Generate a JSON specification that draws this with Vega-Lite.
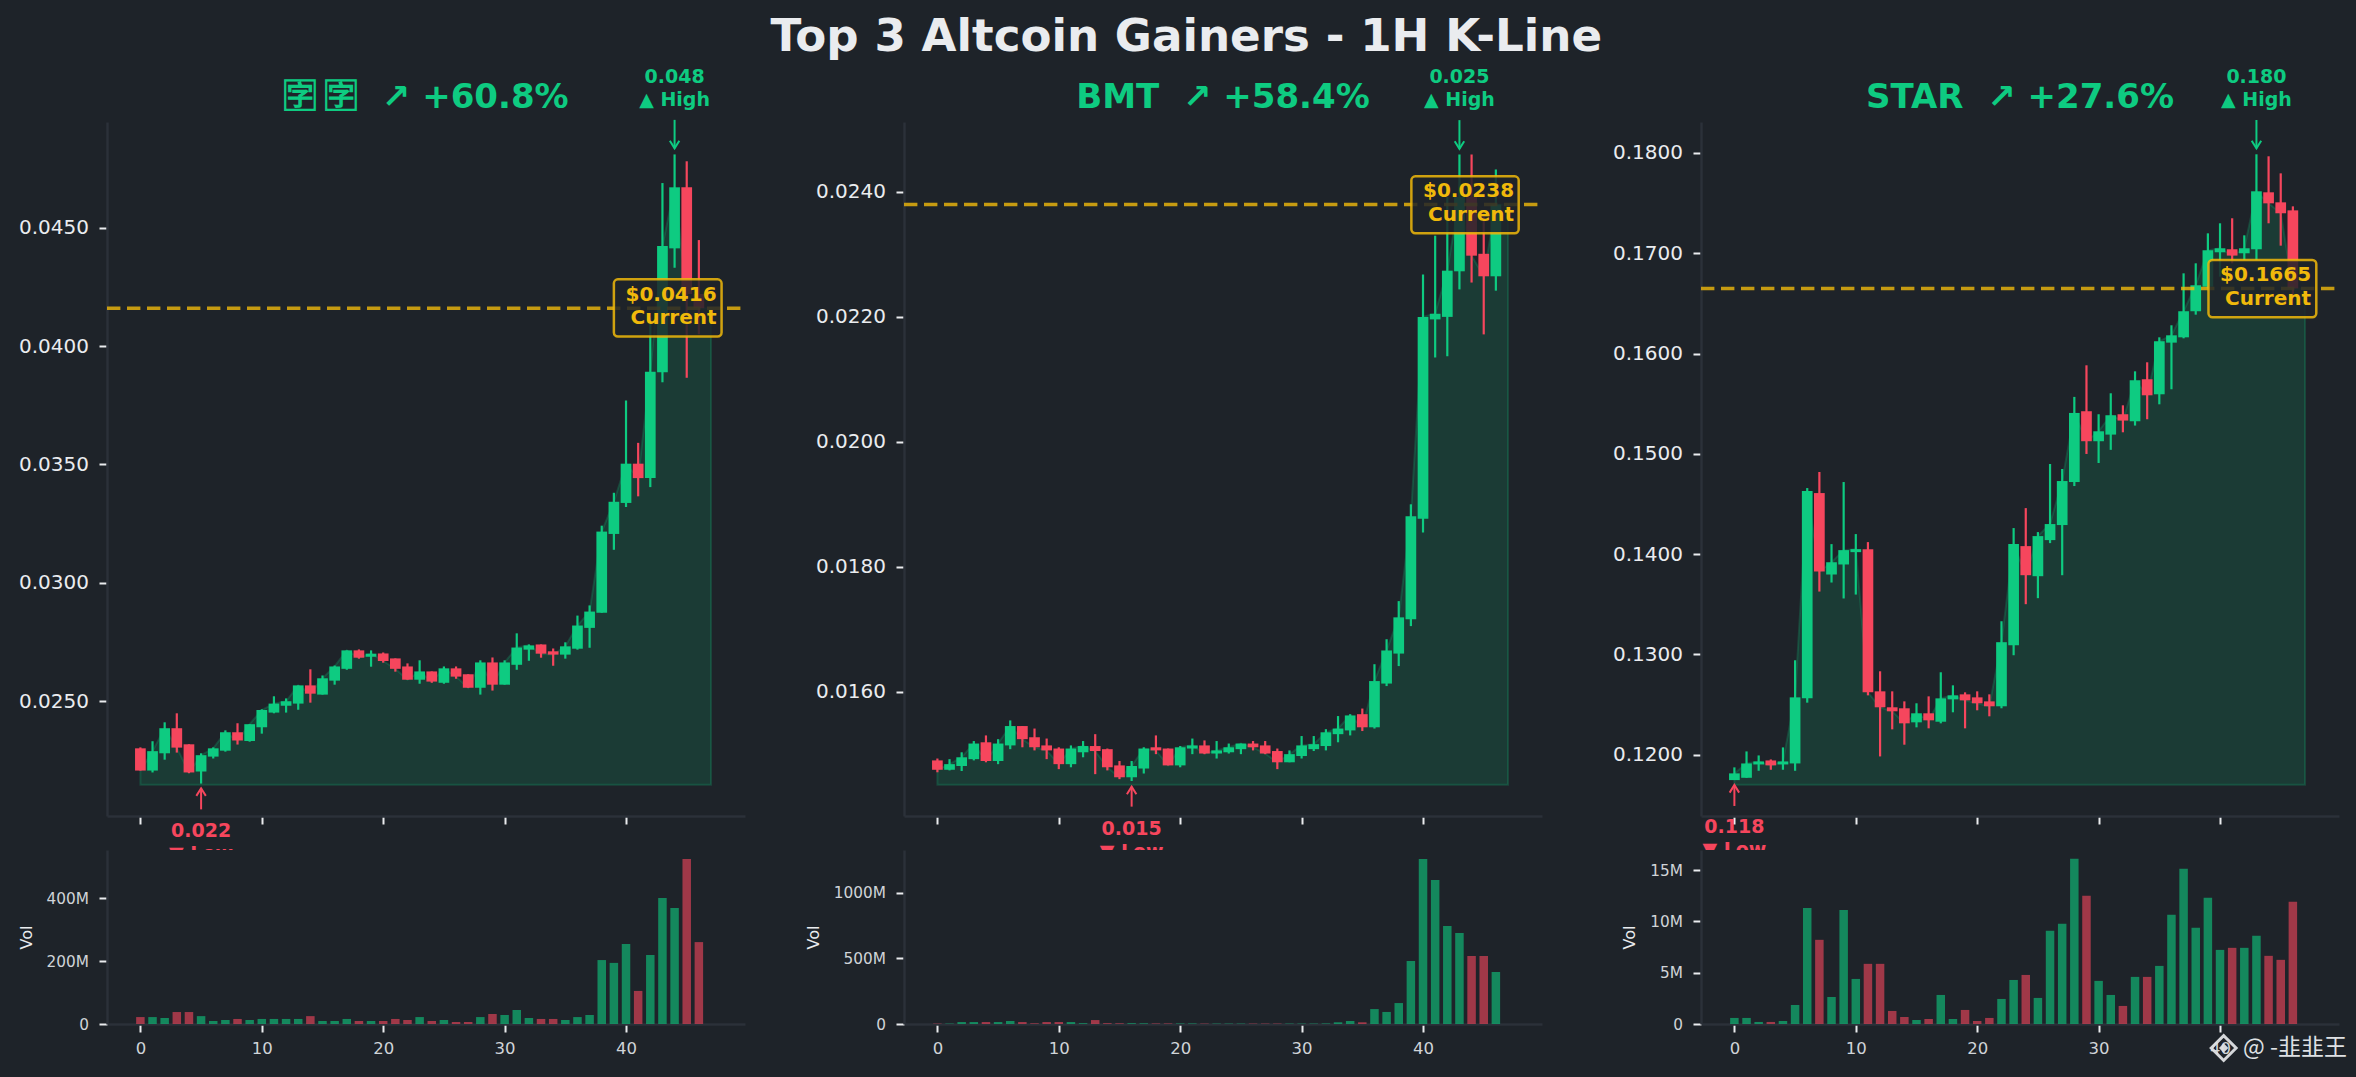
{
"$schema":"https://vega.github.io/schema/vega-lite/v6.json",
"background":"#1e2329",
"padding":{"left":18,"top":15,"right":10,"bottom":14},
"config":{"view":{"stroke":null,"fill":"#1e2329"},"font":"DejaVu Sans",
"axis":{"grid":false,"title":null,"domainColor":"#2b3139","domainWidth":2.5,"tickColor":"#eaecef","tickWidth":2,"tickSize":8,"labelFont":"DejaVu Sans","labelPadding":10.5,"titlePadding":12}},
"datasets":{
"p1":[
{"i":0,"o":0.023,"h":0.02304,"l":0.02206,"c":0.02206,"v":22000000},
{"i":1,"o":0.02206,"h":0.0233,"l":0.02198,"c":0.02288,"v":22000000},
{"i":2,"o":0.02279,"h":0.0241,"l":0.02252,"c":0.02385,"v":19000000},
{"i":3,"o":0.02385,"h":0.02448,"l":0.02282,"c":0.02303,"v":38000000},
{"i":4,"o":0.02317,"h":0.02317,"l":0.02195,"c":0.02198,"v":38000000},
{"i":5,"o":0.02202,"h":0.02279,"l":0.02151,"c":0.02271,"v":25000000},
{"i":6,"o":0.02265,"h":0.02304,"l":0.02257,"c":0.023,"v":9500000},
{"i":7,"o":0.0229,"h":0.02376,"l":0.02286,"c":0.02368,"v":12700000},
{"i":8,"o":0.02368,"h":0.02406,"l":0.02316,"c":0.02333,"v":16000000},
{"i":9,"o":0.02331,"h":0.02402,"l":0.02328,"c":0.02402,"v":12700000},
{"i":10,"o":0.02389,"h":0.02465,"l":0.02362,"c":0.02462,"v":16000000},
{"i":11,"o":0.02451,"h":0.0252,"l":0.02448,"c":0.02489,"v":16000000},
{"i":12,"o":0.0248,"h":0.02511,"l":0.02451,"c":0.02499,"v":16000000},
{"i":13,"o":0.02489,"h":0.02566,"l":0.02463,"c":0.02566,"v":16000000},
{"i":14,"o":0.02566,"h":0.02634,"l":0.02493,"c":0.02531,"v":25000000},
{"i":15,"o":0.02527,"h":0.02608,"l":0.02527,"c":0.02596,"v":9500000},
{"i":16,"o":0.02586,"h":0.0265,"l":0.02569,"c":0.02646,"v":9500000},
{"i":17,"o":0.02636,"h":0.02714,"l":0.02632,"c":0.02714,"v":16000000},
{"i":18,"o":0.02714,"h":0.02718,"l":0.02679,"c":0.02683,"v":9500000},
{"i":19,"o":0.02687,"h":0.02714,"l":0.02645,"c":0.027,"v":9500000},
{"i":20,"o":0.02701,"h":0.02705,"l":0.02662,"c":0.02669,"v":9500000},
{"i":21,"o":0.0268,"h":0.0268,"l":0.02624,"c":0.02636,"v":16000000},
{"i":22,"o":0.02646,"h":0.02659,"l":0.0259,"c":0.0259,"v":12700000},
{"i":23,"o":0.0259,"h":0.02672,"l":0.02573,"c":0.02625,"v":22000000},
{"i":24,"o":0.02625,"h":0.02625,"l":0.02577,"c":0.02582,"v":9500000},
{"i":25,"o":0.02577,"h":0.02646,"l":0.02573,"c":0.02638,"v":12700000},
{"i":26,"o":0.02638,"h":0.02646,"l":0.02594,"c":0.02603,"v":6300000},
{"i":27,"o":0.02613,"h":0.02613,"l":0.02556,"c":0.02556,"v":6300000},
{"i":28,"o":0.02556,"h":0.02672,"l":0.02527,"c":0.02663,"v":22000000},
{"i":29,"o":0.02663,"h":0.02684,"l":0.02544,"c":0.02569,"v":31700000},
{"i":30,"o":0.02569,"h":0.02672,"l":0.02569,"c":0.02663,"v":28600000},
{"i":31,"o":0.02653,"h":0.02786,"l":0.02632,"c":0.02726,"v":44400000},
{"i":32,"o":0.02717,"h":0.02739,"l":0.0267,"c":0.02735,"v":19000000},
{"i":33,"o":0.02739,"h":0.02739,"l":0.02683,"c":0.027,"v":16000000},
{"i":34,"o":0.0271,"h":0.02722,"l":0.02649,"c":0.02696,"v":16000000},
{"i":35,"o":0.02696,"h":0.02748,"l":0.02679,"c":0.02731,"v":12700000},
{"i":36,"o":0.02721,"h":0.02861,"l":0.02717,"c":0.02819,"v":22000000},
{"i":37,"o":0.02809,"h":0.02904,"l":0.02725,"c":0.02878,"v":28600000},
{"i":38,"o":0.02873,"h":0.03241,"l":0.02873,"c":0.03216,"v":203000000},
{"i":39,"o":0.03206,"h":0.0338,"l":0.03139,"c":0.03342,"v":194000000},
{"i":40,"o":0.03337,"h":0.0377,"l":0.0332,"c":0.03503,"v":254000000},
{"i":41,"o":0.03503,"h":0.03591,"l":0.03365,"c":0.03442,"v":105000000},
{"i":42,"o":0.03442,"h":0.0412,"l":0.03404,"c":0.03892,"v":219000000},
{"i":43,"o":0.03889,"h":0.04689,"l":0.03847,"c":0.04423,"v":400000000},
{"i":44,"o":0.04413,"h":0.0481,"l":0.04331,"c":0.04671,"v":368000000},
{"i":45,"o":0.04671,"h":0.04781,"l":0.03866,"c":0.0422,"v":524000000},
{"i":46,"o":0.0422,"h":0.04448,"l":0.0405,"c":0.0416,"v":260000000},
{"i":47,"c":0.0416}],
"p2":[
{"i":0,"o":0.0149,"h":0.01493,"l":0.01471,"c":0.01475,"v":3000000},
{"i":1,"o":0.01475,"h":0.01492,"l":0.01474,"c":0.01484,"v":3000000},
{"i":2,"o":0.01481,"h":0.01503,"l":0.01473,"c":0.01495,"v":15000000},
{"i":3,"o":0.01492,"h":0.01521,"l":0.0149,"c":0.01517,"v":15000000},
{"i":4,"o":0.01519,"h":0.0153,"l":0.01487,"c":0.01489,"v":15000000},
{"i":5,"o":0.01489,"h":0.01524,"l":0.01484,"c":0.01517,"v":15000000},
{"i":6,"o":0.01514,"h":0.01554,"l":0.01508,"c":0.01545,"v":23000000},
{"i":7,"o":0.01545,"h":0.01545,"l":0.01511,"c":0.01524,"v":15000000},
{"i":8,"o":0.01527,"h":0.01541,"l":0.01506,"c":0.01511,"v":5000000},
{"i":9,"o":0.01514,"h":0.01525,"l":0.01492,"c":0.01506,"v":15000000},
{"i":10,"o":0.01509,"h":0.01511,"l":0.01476,"c":0.01484,"v":15000000},
{"i":11,"o":0.01484,"h":0.01514,"l":0.01479,"c":0.01509,"v":15000000},
{"i":12,"o":0.01503,"h":0.01521,"l":0.01495,"c":0.01513,"v":6000000},
{"i":13,"o":0.01513,"h":0.01532,"l":0.01468,"c":0.01505,"v":30000000},
{"i":14,"o":0.01508,"h":0.01509,"l":0.01474,"c":0.01479,"v":6000000},
{"i":15,"o":0.01482,"h":0.01489,"l":0.0146,"c":0.01463,"v":5000000},
{"i":16,"o":0.01463,"h":0.01489,"l":0.01457,"c":0.01481,"v":6000000},
{"i":17,"o":0.01477,"h":0.01511,"l":0.01469,"c":0.01509,"v":5000000},
{"i":18,"o":0.01511,"h":0.0153,"l":0.015,"c":0.01506,"v":4000000},
{"i":19,"o":0.01509,"h":0.01509,"l":0.01482,"c":0.01482,"v":4000000},
{"i":20,"o":0.01482,"h":0.01513,"l":0.01479,"c":0.01511,"v":4000000},
{"i":21,"o":0.01509,"h":0.01525,"l":0.015,"c":0.01514,"v":4000000},
{"i":22,"o":0.01514,"h":0.01522,"l":0.015,"c":0.01501,"v":3000000},
{"i":23,"o":0.01501,"h":0.01521,"l":0.01493,"c":0.01506,"v":3000000},
{"i":24,"o":0.01503,"h":0.01517,"l":0.01501,"c":0.01511,"v":3000000},
{"i":25,"o":0.01508,"h":0.01517,"l":0.015,"c":0.01517,"v":3000000},
{"i":26,"o":0.01517,"h":0.01521,"l":0.01506,"c":0.01511,"v":3000000},
{"i":27,"o":0.01514,"h":0.01521,"l":0.015,"c":0.01501,"v":3000000},
{"i":28,"o":0.01505,"h":0.01509,"l":0.01476,"c":0.01487,"v":3000000},
{"i":29,"o":0.01487,"h":0.01506,"l":0.01487,"c":0.015,"v":3000000},
{"i":30,"o":0.01497,"h":0.01529,"l":0.01493,"c":0.01514,"v":3000000},
{"i":31,"o":0.01508,"h":0.01529,"l":0.01505,"c":0.01516,"v":3000000},
{"i":32,"o":0.01513,"h":0.0154,"l":0.01506,"c":0.01535,"v":4000000},
{"i":33,"o":0.01532,"h":0.01561,"l":0.01519,"c":0.01541,"v":13000000},
{"i":34,"o":0.01538,"h":0.01564,"l":0.0153,"c":0.01562,"v":23000000},
{"i":35,"o":0.01564,"h":0.01573,"l":0.01537,"c":0.01543,"v":13000000},
{"i":36,"o":0.01543,"h":0.01644,"l":0.01541,"c":0.01617,"v":114000000},
{"i":37,"o":0.01613,"h":0.01684,"l":0.01609,"c":0.01666,"v":92000000},
{"i":38,"o":0.01661,"h":0.01745,"l":0.01641,"c":0.01719,"v":160000000},
{"i":39,"o":0.01716,"h":0.019,"l":0.01705,"c":0.01881,"v":481000000},
{"i":40,"o":0.01877,"h":0.02268,"l":0.01855,"c":0.022,"v":1260000000},
{"i":41,"o":0.02196,"h":0.0233,"l":0.02135,"c":0.02205,"v":1099000000},
{"i":42,"o":0.022,"h":0.02392,"l":0.02137,"c":0.02274,"v":748000000},
{"i":43,"o":0.02273,"h":0.0246,"l":0.02244,"c":0.02392,"v":695000000},
{"i":44,"o":0.02392,"h":0.0246,"l":0.02255,"c":0.02298,"v":519000000},
{"i":45,"o":0.02301,"h":0.0236,"l":0.02172,"c":0.02265,"v":519000000},
{"i":46,"o":0.02265,"h":0.02436,"l":0.02242,"c":0.0238,"v":397000000},
{"i":47,"c":0.0238}],
"p3":[
{"i":0,"o":0.11747,"h":0.11874,"l":0.1176,"c":0.11814,"v":590000},
{"i":1,"o":0.1177,"h":0.12033,"l":0.1177,"c":0.11913,"v":590000},
{"i":2,"o":0.11903,"h":0.11993,"l":0.1184,"c":0.11933,"v":200000},
{"i":3,"o":0.11943,"h":0.11953,"l":0.1185,"c":0.11894,"v":200000},
{"i":4,"o":0.11903,"h":0.12073,"l":0.1185,"c":0.11933,"v":290000},
{"i":5,"o":0.11913,"h":0.12942,"l":0.1184,"c":0.12572,"v":1850000},
{"i":6,"o":0.12562,"h":0.14659,"l":0.12519,"c":0.14629,"v":11300000},
{"i":7,"o":0.14609,"h":0.14819,"l":0.13627,"c":0.13827,"v":8200000},
{"i":8,"o":0.13797,"h":0.141,"l":0.13717,"c":0.1392,"v":2630000},
{"i":9,"o":0.13897,"h":0.14719,"l":0.13558,"c":0.1404,"v":11100000},
{"i":10,"o":0.1402,"h":0.142,"l":0.13597,"c":0.1405,"v":4390000},
{"i":11,"o":0.1405,"h":0.1412,"l":0.12592,"c":0.12622,"v":5860000},
{"i":12,"o":0.12632,"h":0.12832,"l":0.11983,"c":0.12473,"v":5860000},
{"i":13,"o":0.12473,"h":0.12632,"l":0.12253,"c":0.12433,"v":1270000},
{"i":14,"o":0.12463,"h":0.12532,"l":0.121,"c":0.12313,"v":680000},
{"i":15,"o":0.12323,"h":0.12513,"l":0.12273,"c":0.12413,"v":390000},
{"i":16,"o":0.12413,"h":0.12582,"l":0.12263,"c":0.12343,"v":490000},
{"i":17,"o":0.12329,"h":0.12822,"l":0.12313,"c":0.12562,"v":2830000},
{"i":18,"o":0.12552,"h":0.12692,"l":0.12423,"c":0.12592,"v":490000},
{"i":19,"o":0.12602,"h":0.12622,"l":0.12263,"c":0.12542,"v":1370000},
{"i":20,"o":0.12572,"h":0.12632,"l":0.12443,"c":0.12513,"v":290000},
{"i":21,"o":0.12532,"h":0.12602,"l":0.12383,"c":0.12483,"v":590000},
{"i":22,"o":0.12483,"h":0.13331,"l":0.12463,"c":0.13122,"v":2440000},
{"i":23,"o":0.13092,"h":0.1426,"l":0.12992,"c":0.141,"v":4290000},
{"i":24,"o":0.1408,"h":0.14459,"l":0.13501,"c":0.1379,"v":4780000},
{"i":25,"o":0.1378,"h":0.1422,"l":0.13561,"c":0.1418,"v":2540000},
{"i":26,"o":0.1414,"h":0.14899,"l":0.1411,"c":0.143,"v":9080000},
{"i":27,"o":0.1429,"h":0.14849,"l":0.1379,"c":0.14729,"v":9760000},
{"i":28,"o":0.14719,"h":0.15568,"l":0.14679,"c":0.15408,"v":16100000},
{"i":29,"o":0.15425,"h":0.15883,"l":0.14999,"c":0.15126,"v":12490000},
{"i":30,"o":0.15126,"h":0.15395,"l":0.14909,"c":0.15225,"v":4200000},
{"i":31,"o":0.15192,"h":0.15604,"l":0.1504,"c":0.15385,"v":2830000},
{"i":32,"o":0.15395,"h":0.15484,"l":0.15215,"c":0.15332,"v":1760000},
{"i":33,"o":0.15325,"h":0.15823,"l":0.15282,"c":0.15734,"v":4590000},
{"i":34,"o":0.15744,"h":0.15913,"l":0.15345,"c":0.15584,"v":4590000},
{"i":35,"o":0.15594,"h":0.16162,"l":0.15494,"c":0.16123,"v":5660000},
{"i":36,"o":0.16109,"h":0.16282,"l":0.15644,"c":0.16182,"v":10640000},
{"i":37,"o":0.16162,"h":0.168,"l":0.16152,"c":0.16422,"v":15130000},
{"i":38,"o":0.16422,"h":0.169,"l":0.16388,"c":0.16681,"v":9370000},
{"i":39,"o":0.16667,"h":0.17199,"l":0.16651,"c":0.1703,"v":12300000},
{"i":40,"o":0.1701,"h":0.17299,"l":0.16767,"c":0.1705,"v":7220000},
{"i":41,"o":0.1704,"h":0.17349,"l":0.169,"c":0.16977,"v":7420000},
{"i":42,"o":0.17,"h":0.17179,"l":0.16933,"c":0.1705,"v":7420000},
{"i":43,"o":0.1704,"h":0.17987,"l":0.16933,"c":0.17618,"v":8590000},
{"i":44,"o":0.17608,"h":0.17967,"l":0.17299,"c":0.17498,"v":6640000},
{"i":45,"o":0.17508,"h":0.17797,"l":0.17076,"c":0.17399,"v":6250000},
{"i":46,"o":0.17428,"h":0.17468,"l":0.1655,"c":0.1665,"v":11900000},
{"i":47,"c":0.1665}],
"n1":[
{"k":"high","x":44,"y":0.05138,"t":"0.048","ay":0.04956,"ay2":0.04836},
{"k":"high","x":44,"y":0.05041,"t":"▲ High"},
{"k":"low","x":5,"y":0.0195,"t":"0.022","ay":0.02042,"ay2":0.02131},
{"k":"low","x":5,"y":0.01853,"t":"▼ Low"}],
"n2":[
{"k":"high","x":43,"y":0.02584,"t":"0.025","ay":0.02515,"ay2":0.02469},
{"k":"high","x":43,"y":0.02547,"t":"▲ High"},
{"k":"low","x":16,"y":0.0138,"t":"0.015","ay":0.01416,"ay2":0.01448},
{"k":"low","x":16,"y":0.01343,"t":"▼ Low"}],
"n3":[
{"k":"high","x":43,"y":0.18758,"t":"0.180","ay":0.18329,"ay2":0.18047},
{"k":"high","x":43,"y":0.18528,"t":"▲ High"},
{"k":"low","x":0,"y":0.11279,"t":"0.118","ay":0.11489,"ay2":0.11698},
{"k":"low","x":0,"y":0.1105,"t":"▼ Low"}],
"b1":[{"x":39,"x2":47.87,"y":0.04282,"y2":0.0404,"tx":47.46,"t1":"$0.0416","y1":0.04216,"t2":"Current","y3":0.04119}],
"b2":[{"x":39.04,"x2":47.88,"y":0.02425,"y2":0.02334,"tx":47.5,"t1":"$0.0238","y1":0.02401,"t2":"Current","y3":0.02363}],
"b3":[{"x":39.05,"x2":47.93,"y":0.16933,"y2":0.16362,"tx":47.5,"t1":"$0.1665","y1":0.16784,"t2":"Current","y3":0.16544}],
"h1":[{"x":23.525,"y":0.05048,"t":"🈑\u2009🈑\u00a0\u00a0↗ +60.8%"}],
"h2":[{"x":23.525,"y":0.0255,"t":"BMT\u00a0\u00a0↗ +58.4%"}],
"h3":[{"x":23.525,"y":0.18548,"t":"STAR\u00a0\u00a0↗ +27.6%"}],
"main":[{"x":20.5,"y":0.02648,"t":"Top 3 Altcoin Gainers - 1H K-Line"}],
"wm":[{"x":41.9,"lx":40.3,"y":-2340000,"t":"@ -韭韭王"}]
},
"columns":3,
"spacing":{"row":34,"column":159},
"bounds":"flush",
"concat":[
{"width":638,"height":694,
"encoding":{"x":{"type":"quantitative","scale":{"domain":[-2.75,49.8],"nice":false,"padding":0},"axis":{"values":[0,10,20,30,40],"labels":false}}},
"layer":[
{"data":{"name":"p1"},"mark":{"type":"area","color":"#0ecb81","fillOpacity":0.15,"stroke":"#0ecb81","strokeOpacity":0.2,"strokeWidth":2},
"encoding":{"x":{"field":"i"},"y":{"field":"c","type":"quantitative","scale":{"domain":[0.02014,0.04947],"nice":false,"zero":false},"axis":{"values":[0.025,0.03,0.035,0.04,0.045],"format":".4f","labelFontSize":20,"labelColor":"#eaecef"}},"y2":{"datum":0.02146}}},
{"data":{"name":"p1"},"transform":[{"filter":"datum.o != null"}],"mark":{"type":"rule","strokeWidth":2.2},
"encoding":{"x":{"field":"i"},"y":{"field":"l","type":"quantitative"},"y2":{"field":"h"},"color":{"condition":{"test":"datum.c >= datum.o","value":"#0ecb81"},"value":"#f6465d"}}},
{"data":{"name":"p1"},"transform":[{"filter":"datum.o != null"}],"mark":{"type":"bar","size":10.7},
"encoding":{"x":{"field":"i"},"y":{"field":"o","type":"quantitative"},"y2":{"field":"c"},"color":{"condition":{"test":"datum.c >= datum.o","value":"#0ecb81"},"value":"#f6465d"}}},
{"mark":{"type":"rule","color":"#f0b90b","opacity":0.8,"strokeWidth":3.5,"strokeDash":[13.4,6.6]},"encoding":{"x":{"datum":-2.75},"x2":{"datum":49.8},"y":{"datum":0.0416}},"data":{"values":[{}]}},
{"data":{"name":"n1"},"transform":[{"filter":"datum.ay != null"}],"mark":{"type":"rule","strokeWidth":2},
"encoding":{"x":{"field":"x"},"y":{"field":"ay","type":"quantitative"},"y2":{"field":"ay2"},"color":{"condition":{"test":"datum.k == 'high'","value":"#0ecb81"},"value":"#f6465d"}}},
{"data":{"name":"n1"},"transform":[{"filter":"datum.k == 'high' && datum.ay != null"}],"mark":{"type":"point","shape":"M-1,-1.6L0,0L1,-1.6","filled":false,"size":90,"strokeWidth":2,"color":"#0ecb81","opacity":1},
"encoding":{"x":{"field":"x"},"y":{"field":"ay2","type":"quantitative"}}},
{"data":{"name":"n1"},"transform":[{"filter":"datum.k == 'low' && datum.ay != null"}],"mark":{"type":"point","shape":"M-1,1.6L0,0L1,1.6","filled":false,"size":90,"strokeWidth":2,"color":"#f6465d","opacity":1},
"encoding":{"x":{"field":"x"},"y":{"field":"ay2","type":"quantitative"}}},
{"data":{"name":"n1"},"mark":{"type":"text","fontSize":19,"fontWeight":"bold","font":"DejaVu Sans","align":"center","baseline":"middle"},
"encoding":{"x":{"field":"x"},"y":{"field":"y","type":"quantitative"},"text":{"field":"t"},"color":{"condition":{"test":"datum.k == 'high'","value":"#0ecb81"},"value":"#f6465d"}}},
{"data":{"name":"b1"},"mark":{"type":"rect","fill":"#1e2329","fillOpacity":0.85,"stroke":"#f0b90b","strokeOpacity":0.85,"strokeWidth":2.5,"cornerRadius":4},
"encoding":{"x":{"field":"x"},"x2":{"field":"x2"},"y":{"field":"y","type":"quantitative"},"y2":{"field":"y2"}}},
{"data":{"name":"b1"},"mark":{"type":"text","fontSize":20,"fontWeight":"bold","font":"DejaVu Sans","align":"right","baseline":"middle","color":"#f0b90b"},
"encoding":{"x":{"field":"tx"},"y":{"field":"y1","type":"quantitative"},"text":{"field":"t1"}}},
{"data":{"name":"b1"},"mark":{"type":"text","fontSize":20,"fontWeight":"bold","font":"DejaVu Sans","align":"right","baseline":"middle","color":"#f0b90b"},
"encoding":{"x":{"field":"tx"},"y":{"field":"y3","type":"quantitative"},"text":{"field":"t2"}}},
{"data":{"name":"h1"},"mark":{"type":"text","fontSize":34,"fontWeight":"bold","font":"DejaVu Sans","align":"center","baseline":"middle","color":"#0ecb81"},
"encoding":{"x":{"field":"x"},"y":{"field":"y","type":"quantitative"},"text":{"field":"t"}}}
]},
{"width":638,"height":694,
"encoding":{"x":{"type":"quantitative","scale":{"domain":[-2.75,49.8],"nice":false,"padding":0},"axis":{"values":[0,10,20,30,40],"labels":false}}},
"layer":[
{"data":{"name":"p2"},"mark":{"type":"area","color":"#0ecb81","fillOpacity":0.15,"stroke":"#0ecb81","strokeOpacity":0.2,"strokeWidth":2},
"encoding":{"x":{"field":"i"},"y":{"field":"c","type":"quantitative","scale":{"domain":[0.01401,0.02512],"nice":false,"zero":false},"axis":{"values":[0.016,0.018,0.02,0.022,0.024],"format":".4f","labelFontSize":20,"labelColor":"#eaecef"}},"y2":{"datum":0.01451}}},
{"data":{"name":"p2"},"transform":[{"filter":"datum.o != null"}],"mark":{"type":"rule","strokeWidth":2.2},
"encoding":{"x":{"field":"i"},"y":{"field":"l","type":"quantitative"},"y2":{"field":"h"},"color":{"condition":{"test":"datum.c >= datum.o","value":"#0ecb81"},"value":"#f6465d"}}},
{"data":{"name":"p2"},"transform":[{"filter":"datum.o != null"}],"mark":{"type":"bar","size":10.7},
"encoding":{"x":{"field":"i"},"y":{"field":"o","type":"quantitative"},"y2":{"field":"c"},"color":{"condition":{"test":"datum.c >= datum.o","value":"#0ecb81"},"value":"#f6465d"}}},
{"mark":{"type":"rule","color":"#f0b90b","opacity":0.8,"strokeWidth":3.5,"strokeDash":[13.4,6.6]},"encoding":{"x":{"datum":-2.75},"x2":{"datum":49.8},"y":{"datum":0.0238}},"data":{"values":[{}]}},
{"data":{"name":"n2"},"transform":[{"filter":"datum.ay != null"}],"mark":{"type":"rule","strokeWidth":2},
"encoding":{"x":{"field":"x"},"y":{"field":"ay","type":"quantitative"},"y2":{"field":"ay2"},"color":{"condition":{"test":"datum.k == 'high'","value":"#0ecb81"},"value":"#f6465d"}}},
{"data":{"name":"n2"},"transform":[{"filter":"datum.k == 'high' && datum.ay != null"}],"mark":{"type":"point","shape":"M-1,-1.6L0,0L1,-1.6","filled":false,"size":90,"strokeWidth":2,"color":"#0ecb81","opacity":1},
"encoding":{"x":{"field":"x"},"y":{"field":"ay2","type":"quantitative"}}},
{"data":{"name":"n2"},"transform":[{"filter":"datum.k == 'low' && datum.ay != null"}],"mark":{"type":"point","shape":"M-1,1.6L0,0L1,1.6","filled":false,"size":90,"strokeWidth":2,"color":"#f6465d","opacity":1},
"encoding":{"x":{"field":"x"},"y":{"field":"ay2","type":"quantitative"}}},
{"data":{"name":"n2"},"mark":{"type":"text","fontSize":19,"fontWeight":"bold","font":"DejaVu Sans","align":"center","baseline":"middle"},
"encoding":{"x":{"field":"x"},"y":{"field":"y","type":"quantitative"},"text":{"field":"t"},"color":{"condition":{"test":"datum.k == 'high'","value":"#0ecb81"},"value":"#f6465d"}}},
{"data":{"name":"b2"},"mark":{"type":"rect","fill":"#1e2329","fillOpacity":0.85,"stroke":"#f0b90b","strokeOpacity":0.85,"strokeWidth":2.5,"cornerRadius":4},
"encoding":{"x":{"field":"x"},"x2":{"field":"x2"},"y":{"field":"y","type":"quantitative"},"y2":{"field":"y2"}}},
{"data":{"name":"b2"},"mark":{"type":"text","fontSize":20,"fontWeight":"bold","font":"DejaVu Sans","align":"right","baseline":"middle","color":"#f0b90b"},
"encoding":{"x":{"field":"tx"},"y":{"field":"y1","type":"quantitative"},"text":{"field":"t1"}}},
{"data":{"name":"b2"},"mark":{"type":"text","fontSize":20,"fontWeight":"bold","font":"DejaVu Sans","align":"right","baseline":"middle","color":"#f0b90b"},
"encoding":{"x":{"field":"tx"},"y":{"field":"y3","type":"quantitative"},"text":{"field":"t2"}}},
{"data":{"name":"h2"},"mark":{"type":"text","fontSize":34,"fontWeight":"bold","font":"DejaVu Sans","align":"center","baseline":"middle","color":"#0ecb81"},
"encoding":{"x":{"field":"x"},"y":{"field":"y","type":"quantitative"},"text":{"field":"t"}}},
{"data":{"name":"main"},"mark":{"type":"text","fontSize":45.2,"fontWeight":"bold","font":"DejaVu Sans","align":"center","baseline":"middle","color":"#eaecef"},
"encoding":{"x":{"field":"x"},"y":{"field":"y","type":"quantitative"},"text":{"field":"t"}}}
]},
{"width":638,"height":694,
"encoding":{"x":{"type":"quantitative","scale":{"domain":[-2.75,49.8],"nice":false,"padding":0},"axis":{"values":[0,10,20,30,40],"labels":false}}},
"layer":[
{"data":{"name":"p3"},"mark":{"type":"area","color":"#0ecb81","fillOpacity":0.15,"stroke":"#0ecb81","strokeOpacity":0.2,"strokeWidth":2},
"encoding":{"x":{"field":"i"},"y":{"field":"c","type":"quantitative","scale":{"domain":[0.11389,0.18309],"nice":false,"zero":false},"axis":{"values":[0.12,0.13,0.14,0.15,0.16,0.17,0.18],"format":".4f","labelFontSize":20,"labelColor":"#eaecef"}},"y2":{"datum":0.117}}},
{"data":{"name":"p3"},"transform":[{"filter":"datum.o != null"}],"mark":{"type":"rule","strokeWidth":2.2},
"encoding":{"x":{"field":"i"},"y":{"field":"l","type":"quantitative"},"y2":{"field":"h"},"color":{"condition":{"test":"datum.c >= datum.o","value":"#0ecb81"},"value":"#f6465d"}}},
{"data":{"name":"p3"},"transform":[{"filter":"datum.o != null"}],"mark":{"type":"bar","size":10.7},
"encoding":{"x":{"field":"i"},"y":{"field":"o","type":"quantitative"},"y2":{"field":"c"},"color":{"condition":{"test":"datum.c >= datum.o","value":"#0ecb81"},"value":"#f6465d"}}},
{"mark":{"type":"rule","color":"#f0b90b","opacity":0.8,"strokeWidth":3.5,"strokeDash":[13.4,6.6]},"encoding":{"x":{"datum":-2.75},"x2":{"datum":49.8},"y":{"datum":0.1665}},"data":{"values":[{}]}},
{"data":{"name":"n3"},"transform":[{"filter":"datum.ay != null"}],"mark":{"type":"rule","strokeWidth":2},
"encoding":{"x":{"field":"x"},"y":{"field":"ay","type":"quantitative"},"y2":{"field":"ay2"},"color":{"condition":{"test":"datum.k == 'high'","value":"#0ecb81"},"value":"#f6465d"}}},
{"data":{"name":"n3"},"transform":[{"filter":"datum.k == 'high' && datum.ay != null"}],"mark":{"type":"point","shape":"M-1,-1.6L0,0L1,-1.6","filled":false,"size":90,"strokeWidth":2,"color":"#0ecb81","opacity":1},
"encoding":{"x":{"field":"x"},"y":{"field":"ay2","type":"quantitative"}}},
{"data":{"name":"n3"},"transform":[{"filter":"datum.k == 'low' && datum.ay != null"}],"mark":{"type":"point","shape":"M-1,1.6L0,0L1,1.6","filled":false,"size":90,"strokeWidth":2,"color":"#f6465d","opacity":1},
"encoding":{"x":{"field":"x"},"y":{"field":"ay2","type":"quantitative"}}},
{"data":{"name":"n3"},"mark":{"type":"text","fontSize":19,"fontWeight":"bold","font":"DejaVu Sans","align":"center","baseline":"middle"},
"encoding":{"x":{"field":"x"},"y":{"field":"y","type":"quantitative"},"text":{"field":"t"},"color":{"condition":{"test":"datum.k == 'high'","value":"#0ecb81"},"value":"#f6465d"}}},
{"data":{"name":"b3"},"mark":{"type":"rect","fill":"#1e2329","fillOpacity":0.85,"stroke":"#f0b90b","strokeOpacity":0.85,"strokeWidth":2.5,"cornerRadius":4},
"encoding":{"x":{"field":"x"},"x2":{"field":"x2"},"y":{"field":"y","type":"quantitative"},"y2":{"field":"y2"}}},
{"data":{"name":"b3"},"mark":{"type":"text","fontSize":20,"fontWeight":"bold","font":"DejaVu Sans","align":"right","baseline":"middle","color":"#f0b90b"},
"encoding":{"x":{"field":"tx"},"y":{"field":"y1","type":"quantitative"},"text":{"field":"t1"}}},
{"data":{"name":"b3"},"mark":{"type":"text","fontSize":20,"fontWeight":"bold","font":"DejaVu Sans","align":"right","baseline":"middle","color":"#f0b90b"},
"encoding":{"x":{"field":"tx"},"y":{"field":"y3","type":"quantitative"},"text":{"field":"t2"}}},
{"data":{"name":"h3"},"mark":{"type":"text","fontSize":34,"fontWeight":"bold","font":"DejaVu Sans","align":"center","baseline":"middle","color":"#0ecb81"},
"encoding":{"x":{"field":"x"},"y":{"field":"y","type":"quantitative"},"text":{"field":"t"}}}
]},
{"width":638,"height":174,"data":{"name":"p1"},"transform":[{"filter":"datum.o != null"}],
"mark":{"type":"bar","size":8.5,"opacity":0.6},
"encoding":{"x":{"field":"i","type":"quantitative","scale":{"domain":[-2.75,49.8],"nice":false,"padding":0},"axis":{"values":[0,10,20,30,40],"labelFontSize":16.5,"labelPadding":8,"labelColor":"#d0d4d8"}},
"y":{"field":"v","type":"quantitative","scale":{"domain":[0,552400000],"nice":false},"axis":{"title":"Vol","titleColor":"#eaecef","titleFontSize":16,"titleFontWeight":"normal","values":[0,200000000,400000000],"labelExpr":"datum.value == 0 ? '0' : datum.value / 1000000 + 'M'","labelFontSize":15.3,"labelColor":"#d0d4d8"}},
"color":{"condition":{"test":"datum.c >= datum.o","value":"#0ecb81"},"value":"#f6465d"}}},
{"width":638,"height":174,"data":{"name":"p2"},"transform":[{"filter":"datum.o != null"}],
"mark":{"type":"bar","size":8.5,"opacity":0.6},
"encoding":{"x":{"field":"i","type":"quantitative","scale":{"domain":[-2.75,49.8],"nice":false,"padding":0},"axis":{"values":[0,10,20,30,40],"labelFontSize":16.5,"labelPadding":8,"labelColor":"#d0d4d8"}},
"y":{"field":"v","type":"quantitative","scale":{"domain":[0,1328000000],"nice":false},"axis":{"title":"Vol","titleColor":"#eaecef","titleFontSize":16,"titleFontWeight":"normal","values":[0,500000000,1000000000],"labelExpr":"datum.value == 0 ? '0' : datum.value / 1000000 + 'M'","labelFontSize":15.3,"labelColor":"#d0d4d8"}},
"color":{"condition":{"test":"datum.c >= datum.o","value":"#0ecb81"},"value":"#f6465d"}}},
{"width":638,"height":174,
"encoding":{"x":{"type":"quantitative","scale":{"domain":[-2.75,49.8],"nice":false,"padding":0},"axis":{"values":[0,10,20,30,40],"labelFontSize":16.5,"labelPadding":8,"labelColor":"#d0d4d8"}}},
"layer":[
{"data":{"name":"p3"},"transform":[{"filter":"datum.o != null"}],
"mark":{"type":"bar","size":8.5,"opacity":0.6},
"encoding":{"x":{"field":"i"},
"y":{"field":"v","type":"quantitative","scale":{"domain":[0,16950000],"nice":false},"axis":{"title":"Vol","titleColor":"#eaecef","titleFontSize":16,"titleFontWeight":"normal","values":[0,5000000,10000000,15000000],"labelExpr":"datum.value == 0 ? '0' : datum.value / 1000000 + 'M'","labelFontSize":15.3,"labelColor":"#d0d4d8"}},
"color":{"condition":{"test":"datum.c >= datum.o","value":"#0ecb81"},"value":"#f6465d"}}},
{"data":{"name":"wm"},"mark":{"type":"point","shape":"diamond","filled":false,"size":620,"strokeWidth":3,"color":"#dfe1e4","opacity":0.95},
"encoding":{"x":{"field":"lx"},"y":{"field":"y","type":"quantitative"}}},
{"data":{"name":"wm"},"mark":{"type":"point","shape":"diamond","filled":true,"size":90,"color":"#dfe1e4","opacity":0.95},
"encoding":{"x":{"field":"lx"},"y":{"field":"y","type":"quantitative"}}},
{"data":{"name":"wm"},"mark":{"type":"text","font":"Noto Sans CJK SC","fontSize":23,"align":"left","baseline":"middle","color":"#dfe1e4"},
"encoding":{"x":{"field":"x"},"y":{"field":"y","type":"quantitative"},"text":{"field":"t"}}}
]}
]
}
